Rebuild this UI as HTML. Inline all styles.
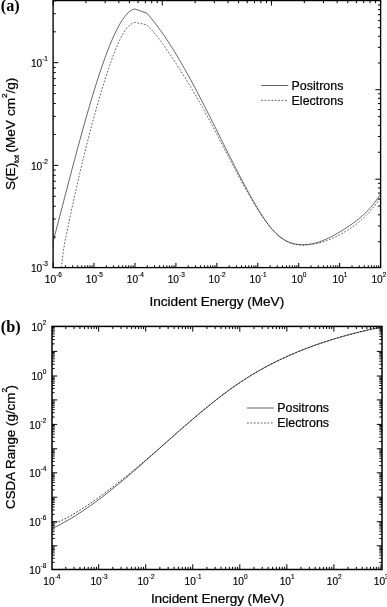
<!DOCTYPE html>
<html><head><meta charset="utf-8"><title>Figure</title>
<style>
html,body{margin:0;padding:0;background:#fff;}
svg{display:block;font-family:"Liberation Sans",sans-serif;fill:#000;}
text{stroke:#000;stroke-width:0.22px;}
</style></head><body>
<svg width="387" height="607" viewBox="0 0 387 607">
<rect x="0" y="0" width="387" height="607" fill="#fff"/>
<rect x="53.1" y="0.55" width="327.5" height="267.05" fill="none" stroke="#000" stroke-width="1.35"/>
<line x1="53.10" y1="267.60" x2="53.10" y2="262.80" stroke="#000" stroke-width="1.0" />
<line x1="65.42" y1="267.60" x2="65.42" y2="265.30" stroke="#000" stroke-width="1.0" />
<line x1="72.63" y1="267.60" x2="72.63" y2="265.30" stroke="#000" stroke-width="1.0" />
<line x1="77.75" y1="267.60" x2="77.75" y2="265.30" stroke="#000" stroke-width="1.0" />
<line x1="81.71" y1="267.60" x2="81.71" y2="265.30" stroke="#000" stroke-width="1.0" />
<line x1="84.96" y1="267.60" x2="84.96" y2="265.30" stroke="#000" stroke-width="1.0" />
<line x1="87.70" y1="267.60" x2="87.70" y2="265.30" stroke="#000" stroke-width="1.0" />
<line x1="90.07" y1="267.60" x2="90.07" y2="265.30" stroke="#000" stroke-width="1.0" />
<line x1="92.16" y1="267.60" x2="92.16" y2="265.30" stroke="#000" stroke-width="1.0" />
<line x1="94.04" y1="267.60" x2="94.04" y2="262.80" stroke="#000" stroke-width="1.0" />
<line x1="106.36" y1="267.60" x2="106.36" y2="265.30" stroke="#000" stroke-width="1.0" />
<line x1="113.57" y1="267.60" x2="113.57" y2="265.30" stroke="#000" stroke-width="1.0" />
<line x1="118.68" y1="267.60" x2="118.68" y2="265.30" stroke="#000" stroke-width="1.0" />
<line x1="122.65" y1="267.60" x2="122.65" y2="265.30" stroke="#000" stroke-width="1.0" />
<line x1="125.89" y1="267.60" x2="125.89" y2="265.30" stroke="#000" stroke-width="1.0" />
<line x1="128.63" y1="267.60" x2="128.63" y2="265.30" stroke="#000" stroke-width="1.0" />
<line x1="131.01" y1="267.60" x2="131.01" y2="265.30" stroke="#000" stroke-width="1.0" />
<line x1="133.10" y1="267.60" x2="133.10" y2="265.30" stroke="#000" stroke-width="1.0" />
<line x1="134.97" y1="267.60" x2="134.97" y2="262.80" stroke="#000" stroke-width="1.0" />
<line x1="147.30" y1="267.60" x2="147.30" y2="265.30" stroke="#000" stroke-width="1.0" />
<line x1="154.51" y1="267.60" x2="154.51" y2="265.30" stroke="#000" stroke-width="1.0" />
<line x1="159.62" y1="267.60" x2="159.62" y2="265.30" stroke="#000" stroke-width="1.0" />
<line x1="163.59" y1="267.60" x2="163.59" y2="265.30" stroke="#000" stroke-width="1.0" />
<line x1="166.83" y1="267.60" x2="166.83" y2="265.30" stroke="#000" stroke-width="1.0" />
<line x1="169.57" y1="267.60" x2="169.57" y2="265.30" stroke="#000" stroke-width="1.0" />
<line x1="171.95" y1="267.60" x2="171.95" y2="265.30" stroke="#000" stroke-width="1.0" />
<line x1="174.04" y1="267.60" x2="174.04" y2="265.30" stroke="#000" stroke-width="1.0" />
<line x1="175.91" y1="267.60" x2="175.91" y2="262.80" stroke="#000" stroke-width="1.0" />
<line x1="188.24" y1="267.60" x2="188.24" y2="265.30" stroke="#000" stroke-width="1.0" />
<line x1="195.44" y1="267.60" x2="195.44" y2="265.30" stroke="#000" stroke-width="1.0" />
<line x1="200.56" y1="267.60" x2="200.56" y2="265.30" stroke="#000" stroke-width="1.0" />
<line x1="204.53" y1="267.60" x2="204.53" y2="265.30" stroke="#000" stroke-width="1.0" />
<line x1="207.77" y1="267.60" x2="207.77" y2="265.30" stroke="#000" stroke-width="1.0" />
<line x1="210.51" y1="267.60" x2="210.51" y2="265.30" stroke="#000" stroke-width="1.0" />
<line x1="212.88" y1="267.60" x2="212.88" y2="265.30" stroke="#000" stroke-width="1.0" />
<line x1="214.98" y1="267.60" x2="214.98" y2="265.30" stroke="#000" stroke-width="1.0" />
<line x1="216.85" y1="267.60" x2="216.85" y2="262.80" stroke="#000" stroke-width="1.0" />
<line x1="229.17" y1="267.60" x2="229.17" y2="265.30" stroke="#000" stroke-width="1.0" />
<line x1="236.38" y1="267.60" x2="236.38" y2="265.30" stroke="#000" stroke-width="1.0" />
<line x1="241.50" y1="267.60" x2="241.50" y2="265.30" stroke="#000" stroke-width="1.0" />
<line x1="245.46" y1="267.60" x2="245.46" y2="265.30" stroke="#000" stroke-width="1.0" />
<line x1="248.71" y1="267.60" x2="248.71" y2="265.30" stroke="#000" stroke-width="1.0" />
<line x1="251.45" y1="267.60" x2="251.45" y2="265.30" stroke="#000" stroke-width="1.0" />
<line x1="253.82" y1="267.60" x2="253.82" y2="265.30" stroke="#000" stroke-width="1.0" />
<line x1="255.91" y1="267.60" x2="255.91" y2="265.30" stroke="#000" stroke-width="1.0" />
<line x1="257.79" y1="267.60" x2="257.79" y2="262.80" stroke="#000" stroke-width="1.0" />
<line x1="270.11" y1="267.60" x2="270.11" y2="265.30" stroke="#000" stroke-width="1.0" />
<line x1="277.32" y1="267.60" x2="277.32" y2="265.30" stroke="#000" stroke-width="1.0" />
<line x1="282.43" y1="267.60" x2="282.43" y2="265.30" stroke="#000" stroke-width="1.0" />
<line x1="286.40" y1="267.60" x2="286.40" y2="265.30" stroke="#000" stroke-width="1.0" />
<line x1="289.64" y1="267.60" x2="289.64" y2="265.30" stroke="#000" stroke-width="1.0" />
<line x1="292.38" y1="267.60" x2="292.38" y2="265.30" stroke="#000" stroke-width="1.0" />
<line x1="294.76" y1="267.60" x2="294.76" y2="265.30" stroke="#000" stroke-width="1.0" />
<line x1="296.85" y1="267.60" x2="296.85" y2="265.30" stroke="#000" stroke-width="1.0" />
<line x1="298.73" y1="267.60" x2="298.73" y2="262.80" stroke="#000" stroke-width="1.0" />
<line x1="311.05" y1="267.60" x2="311.05" y2="265.30" stroke="#000" stroke-width="1.0" />
<line x1="318.26" y1="267.60" x2="318.26" y2="265.30" stroke="#000" stroke-width="1.0" />
<line x1="323.37" y1="267.60" x2="323.37" y2="265.30" stroke="#000" stroke-width="1.0" />
<line x1="327.34" y1="267.60" x2="327.34" y2="265.30" stroke="#000" stroke-width="1.0" />
<line x1="330.58" y1="267.60" x2="330.58" y2="265.30" stroke="#000" stroke-width="1.0" />
<line x1="333.32" y1="267.60" x2="333.32" y2="265.30" stroke="#000" stroke-width="1.0" />
<line x1="335.70" y1="267.60" x2="335.70" y2="265.30" stroke="#000" stroke-width="1.0" />
<line x1="337.79" y1="267.60" x2="337.79" y2="265.30" stroke="#000" stroke-width="1.0" />
<line x1="339.66" y1="267.60" x2="339.66" y2="262.80" stroke="#000" stroke-width="1.0" />
<line x1="351.99" y1="267.60" x2="351.99" y2="265.30" stroke="#000" stroke-width="1.0" />
<line x1="359.19" y1="267.60" x2="359.19" y2="265.30" stroke="#000" stroke-width="1.0" />
<line x1="364.31" y1="267.60" x2="364.31" y2="265.30" stroke="#000" stroke-width="1.0" />
<line x1="368.28" y1="267.60" x2="368.28" y2="265.30" stroke="#000" stroke-width="1.0" />
<line x1="371.52" y1="267.60" x2="371.52" y2="265.30" stroke="#000" stroke-width="1.0" />
<line x1="374.26" y1="267.60" x2="374.26" y2="265.30" stroke="#000" stroke-width="1.0" />
<line x1="376.63" y1="267.60" x2="376.63" y2="265.30" stroke="#000" stroke-width="1.0" />
<line x1="378.73" y1="267.60" x2="378.73" y2="265.30" stroke="#000" stroke-width="1.0" />
<line x1="380.60" y1="267.60" x2="380.60" y2="262.80" stroke="#000" stroke-width="1.0" />
<line x1="53.10" y1="237.10" x2="55.80" y2="237.10" stroke="#000" stroke-width="1.0" />
<line x1="53.10" y1="219.02" x2="55.80" y2="219.02" stroke="#000" stroke-width="1.0" />
<line x1="53.10" y1="206.20" x2="55.80" y2="206.20" stroke="#000" stroke-width="1.0" />
<line x1="53.10" y1="196.25" x2="55.80" y2="196.25" stroke="#000" stroke-width="1.0" />
<line x1="53.10" y1="188.12" x2="55.80" y2="188.12" stroke="#000" stroke-width="1.0" />
<line x1="53.10" y1="181.25" x2="55.80" y2="181.25" stroke="#000" stroke-width="1.0" />
<line x1="53.10" y1="175.30" x2="55.80" y2="175.30" stroke="#000" stroke-width="1.0" />
<line x1="53.10" y1="170.05" x2="55.80" y2="170.05" stroke="#000" stroke-width="1.0" />
<line x1="53.10" y1="165.35" x2="58.30" y2="165.35" stroke="#000" stroke-width="1.0" />
<line x1="53.10" y1="134.45" x2="55.80" y2="134.45" stroke="#000" stroke-width="1.0" />
<line x1="53.10" y1="116.37" x2="55.80" y2="116.37" stroke="#000" stroke-width="1.0" />
<line x1="53.10" y1="103.55" x2="55.80" y2="103.55" stroke="#000" stroke-width="1.0" />
<line x1="53.10" y1="93.60" x2="55.80" y2="93.60" stroke="#000" stroke-width="1.0" />
<line x1="53.10" y1="85.47" x2="55.80" y2="85.47" stroke="#000" stroke-width="1.0" />
<line x1="53.10" y1="78.60" x2="55.80" y2="78.60" stroke="#000" stroke-width="1.0" />
<line x1="53.10" y1="72.65" x2="55.80" y2="72.65" stroke="#000" stroke-width="1.0" />
<line x1="53.10" y1="67.40" x2="55.80" y2="67.40" stroke="#000" stroke-width="1.0" />
<line x1="53.10" y1="62.70" x2="58.30" y2="62.70" stroke="#000" stroke-width="1.0" />
<line x1="53.10" y1="31.80" x2="55.80" y2="31.80" stroke="#000" stroke-width="1.0" />
<line x1="53.10" y1="13.72" x2="55.80" y2="13.72" stroke="#000" stroke-width="1.0" />
<line x1="53.10" y1="0.90" x2="55.80" y2="0.90" stroke="#000" stroke-width="1.0" />
<line x1="53.10" y1="0.55" x2="53.10" y2="5.55" stroke="#000" stroke-width="1.0" />
<line x1="85.96" y1="0.55" x2="85.96" y2="3.25" stroke="#000" stroke-width="1.0" />
<line x1="105.19" y1="0.55" x2="105.19" y2="3.25" stroke="#000" stroke-width="1.0" />
<line x1="118.82" y1="0.55" x2="118.82" y2="3.25" stroke="#000" stroke-width="1.0" />
<line x1="129.40" y1="0.55" x2="129.40" y2="3.25" stroke="#000" stroke-width="1.0" />
<line x1="138.05" y1="0.55" x2="138.05" y2="3.25" stroke="#000" stroke-width="1.0" />
<line x1="145.36" y1="0.55" x2="145.36" y2="3.25" stroke="#000" stroke-width="1.0" />
<line x1="151.69" y1="0.55" x2="151.69" y2="3.25" stroke="#000" stroke-width="1.0" />
<line x1="157.27" y1="0.55" x2="157.27" y2="3.25" stroke="#000" stroke-width="1.0" />
<line x1="162.27" y1="0.55" x2="162.27" y2="5.55" stroke="#000" stroke-width="1.0" />
<line x1="195.13" y1="0.55" x2="195.13" y2="3.25" stroke="#000" stroke-width="1.0" />
<line x1="214.35" y1="0.55" x2="214.35" y2="3.25" stroke="#000" stroke-width="1.0" />
<line x1="227.99" y1="0.55" x2="227.99" y2="3.25" stroke="#000" stroke-width="1.0" />
<line x1="238.57" y1="0.55" x2="238.57" y2="3.25" stroke="#000" stroke-width="1.0" />
<line x1="247.21" y1="0.55" x2="247.21" y2="3.25" stroke="#000" stroke-width="1.0" />
<line x1="254.52" y1="0.55" x2="254.52" y2="3.25" stroke="#000" stroke-width="1.0" />
<line x1="260.85" y1="0.55" x2="260.85" y2="3.25" stroke="#000" stroke-width="1.0" />
<line x1="266.44" y1="0.55" x2="266.44" y2="3.25" stroke="#000" stroke-width="1.0" />
<line x1="271.43" y1="0.55" x2="271.43" y2="5.55" stroke="#000" stroke-width="1.0" />
<line x1="304.30" y1="0.55" x2="304.30" y2="3.25" stroke="#000" stroke-width="1.0" />
<line x1="323.52" y1="0.55" x2="323.52" y2="3.25" stroke="#000" stroke-width="1.0" />
<line x1="337.16" y1="0.55" x2="337.16" y2="3.25" stroke="#000" stroke-width="1.0" />
<line x1="347.74" y1="0.55" x2="347.74" y2="3.25" stroke="#000" stroke-width="1.0" />
<line x1="356.38" y1="0.55" x2="356.38" y2="3.25" stroke="#000" stroke-width="1.0" />
<line x1="363.69" y1="0.55" x2="363.69" y2="3.25" stroke="#000" stroke-width="1.0" />
<line x1="370.02" y1="0.55" x2="370.02" y2="3.25" stroke="#000" stroke-width="1.0" />
<line x1="375.60" y1="0.55" x2="375.60" y2="3.25" stroke="#000" stroke-width="1.0" />
<line x1="380.60" y1="0.55" x2="380.60" y2="5.55" stroke="#000" stroke-width="1.0" />
<line x1="380.60" y1="89.70" x2="375.40" y2="89.70" stroke="#000" stroke-width="1.0" />
<line x1="380.60" y1="62.98" x2="377.90" y2="62.98" stroke="#000" stroke-width="1.0" />
<line x1="380.60" y1="47.36" x2="377.90" y2="47.36" stroke="#000" stroke-width="1.0" />
<line x1="380.60" y1="36.27" x2="377.90" y2="36.27" stroke="#000" stroke-width="1.0" />
<line x1="380.60" y1="27.67" x2="377.90" y2="27.67" stroke="#000" stroke-width="1.0" />
<line x1="380.60" y1="20.64" x2="377.90" y2="20.64" stroke="#000" stroke-width="1.0" />
<line x1="380.60" y1="14.70" x2="377.90" y2="14.70" stroke="#000" stroke-width="1.0" />
<line x1="380.60" y1="9.55" x2="377.90" y2="9.55" stroke="#000" stroke-width="1.0" />
<line x1="380.60" y1="5.01" x2="377.90" y2="5.01" stroke="#000" stroke-width="1.0" />
<line x1="380.60" y1="179.20" x2="375.40" y2="179.20" stroke="#000" stroke-width="1.0" />
<line x1="380.60" y1="152.26" x2="377.90" y2="152.26" stroke="#000" stroke-width="1.0" />
<line x1="380.60" y1="136.50" x2="377.90" y2="136.50" stroke="#000" stroke-width="1.0" />
<line x1="380.60" y1="125.32" x2="377.90" y2="125.32" stroke="#000" stroke-width="1.0" />
<line x1="380.60" y1="116.64" x2="377.90" y2="116.64" stroke="#000" stroke-width="1.0" />
<line x1="380.60" y1="109.56" x2="377.90" y2="109.56" stroke="#000" stroke-width="1.0" />
<line x1="380.60" y1="103.56" x2="377.90" y2="103.56" stroke="#000" stroke-width="1.0" />
<line x1="380.60" y1="98.37" x2="377.90" y2="98.37" stroke="#000" stroke-width="1.0" />
<line x1="380.60" y1="93.80" x2="377.90" y2="93.80" stroke="#000" stroke-width="1.0" />
<line x1="380.60" y1="241.76" x2="377.90" y2="241.76" stroke="#000" stroke-width="1.0" />
<line x1="380.60" y1="226.00" x2="377.90" y2="226.00" stroke="#000" stroke-width="1.0" />
<line x1="380.60" y1="214.82" x2="377.90" y2="214.82" stroke="#000" stroke-width="1.0" />
<line x1="380.60" y1="206.14" x2="377.90" y2="206.14" stroke="#000" stroke-width="1.0" />
<line x1="380.60" y1="199.06" x2="377.90" y2="199.06" stroke="#000" stroke-width="1.0" />
<line x1="380.60" y1="193.06" x2="377.90" y2="193.06" stroke="#000" stroke-width="1.0" />
<line x1="380.60" y1="187.87" x2="377.90" y2="187.87" stroke="#000" stroke-width="1.0" />
<line x1="380.60" y1="183.30" x2="377.90" y2="183.30" stroke="#000" stroke-width="1.0" />
<text transform="translate(53.40,283.40) scale(0.96,1)" font-size="10.6" text-anchor="middle" style="stroke-width:0.15px">10<tspan font-size="6.8" dy="-6.2">-6</tspan></text>
<text transform="translate(94.34,283.40) scale(0.96,1)" font-size="10.6" text-anchor="middle" style="stroke-width:0.15px">10<tspan font-size="6.8" dy="-6.2">-5</tspan></text>
<text transform="translate(135.28,283.40) scale(0.96,1)" font-size="10.6" text-anchor="middle" style="stroke-width:0.15px">10<tspan font-size="6.8" dy="-6.2">-4</tspan></text>
<text transform="translate(176.21,283.40) scale(0.96,1)" font-size="10.6" text-anchor="middle" style="stroke-width:0.15px">10<tspan font-size="6.8" dy="-6.2">-3</tspan></text>
<text transform="translate(217.15,283.40) scale(0.96,1)" font-size="10.6" text-anchor="middle" style="stroke-width:0.15px">10<tspan font-size="6.8" dy="-6.2">-2</tspan></text>
<text transform="translate(258.09,283.40) scale(0.96,1)" font-size="10.6" text-anchor="middle" style="stroke-width:0.15px">10<tspan font-size="6.8" dy="-6.2">-1</tspan></text>
<text transform="translate(299.03,283.40) scale(0.96,1)" font-size="10.6" text-anchor="middle" style="stroke-width:0.15px">10<tspan font-size="6.8" dy="-6.2">0</tspan></text>
<text transform="translate(339.96,283.40) scale(0.96,1)" font-size="10.6" text-anchor="middle" style="stroke-width:0.15px">10<tspan font-size="6.8" dy="-6.2">1</tspan></text>
<text transform="translate(378.90,283.40) scale(0.96,1)" font-size="10.6" text-anchor="middle" style="stroke-width:0.15px">10<tspan font-size="6.8" dy="-6.2">2</tspan></text>
<text transform="translate(48.00,272.40) scale(0.96,1)" font-size="10.6" text-anchor="end" style="stroke-width:0.15px">10<tspan font-size="6.8" dy="-6.2">-3</tspan></text>
<text transform="translate(48.00,169.75) scale(0.96,1)" font-size="10.6" text-anchor="end" style="stroke-width:0.15px">10<tspan font-size="6.8" dy="-6.2">-2</tspan></text>
<text transform="translate(48.00,67.10) scale(0.96,1)" font-size="10.6" text-anchor="end" style="stroke-width:0.15px">10<tspan font-size="6.8" dy="-6.2">-1</tspan></text>
<text transform="translate(149.6,306.2) scale(1.1,1)" font-size="12.4" textLength="122.36" lengthAdjust="spacing">Incident Energy (MeV)</text>
<g transform="translate(14.5,189.9) rotate(-90)">
<text transform="translate(-0.1,0) scale(1.1,1)" font-size="12.4">S(E)</text>
<text transform="translate(26.9,4.8) scale(1.1,1)" font-size="6.6">tot</text>
<text transform="translate(37.3,0) scale(1.1,1)" font-size="12.4">(MeV</text>
<text transform="translate(73.8,0) scale(1.1,1)" font-size="12.4">cm</text>
<text transform="translate(92.0,-7.7) scale(1.1,1)" font-size="7.8">2</text>
<text transform="translate(96.3,0) scale(1.1,1)" font-size="12.4">/g)</text>
</g>
<text x="0.8" y="11.1" font-family="'Liberation Serif',serif" font-weight="bold" font-size="16.3" style="stroke:none">(a)</text>
<line x1="261.2" y1="85.5" x2="288.3" y2="85.5" stroke="#222" stroke-width="0.7"/>
<line x1="261.2" y1="100.4" x2="288.3" y2="100.4" stroke="#222" stroke-width="0.7" stroke-dasharray="1.8 1.6"/>
<text x="291.6" y="89.8" font-size="12.4" textLength="51.8" lengthAdjust="spacing">Positrons</text>
<text x="291.6" y="104.7" font-size="12.4" textLength="51.8" lengthAdjust="spacing">Electrons</text>
<path d="M53.10,247.00 L53.50,240.60 L54.60,235.90 L55.60,232.08 L56.61,228.25 L57.61,224.42 L58.62,220.58 L59.62,216.74 L60.62,212.89 L61.63,209.04 L62.63,205.19 L63.63,201.34 L64.64,197.49 L65.64,193.64 L66.65,189.80 L67.65,185.96 L68.65,182.13 L69.66,178.30 L70.66,174.48 L71.66,170.68 L72.67,166.88 L73.67,163.10 L74.68,159.33 L75.68,155.57 L76.68,151.83 L77.69,148.11 L78.69,144.40 L79.69,140.72 L80.70,137.05 L81.70,133.41 L82.71,129.79 L83.71,126.19 L84.71,122.62 L85.72,119.08 L86.72,115.56 L87.72,112.07 L88.73,108.61 L89.73,105.19 L90.74,101.79 L91.74,98.43 L92.74,95.11 L93.75,91.82 L94.75,88.57 L95.75,85.36 L96.76,82.18 L97.76,79.05 L98.77,75.97 L99.77,72.92 L100.77,69.93 L101.78,66.98 L102.78,64.07 L103.78,61.22 L104.79,58.42 L105.79,55.68 L106.80,52.98 L107.80,50.35 L108.80,47.77 L109.81,45.25 L110.81,42.81 L111.81,40.43 L112.82,38.12 L113.82,35.88 L114.83,33.71 L115.83,31.62 L116.83,29.61 L117.84,27.67 L118.84,25.82 L119.84,24.05 L120.85,22.36 L121.85,20.76 L122.86,19.24 L123.86,17.82 L124.86,16.48 L125.87,15.25 L126.87,14.11 L127.87,13.07 L128.88,12.14 L129.88,11.32 L130.89,10.61 L131.89,10.02 L132.89,9.55 L133.90,9.21 L134.90,9.00 L146.90,13.20 L148.40,14.91 L149.90,16.68 L151.40,18.49 L152.90,20.35 L154.40,22.25 L155.90,24.20 L157.40,26.19 L158.91,28.23 L160.41,30.30 L161.91,32.42 L163.41,34.58 L164.91,36.77 L166.41,39.01 L167.91,41.28 L169.41,43.59 L170.91,45.93 L172.41,48.31 L173.91,50.73 L175.41,53.17 L176.91,55.65 L178.41,58.17 L179.91,60.71 L181.41,63.28 L182.92,65.89 L184.42,68.52 L185.92,71.18 L187.42,73.86 L188.92,76.57 L190.42,79.31 L191.92,82.07 L193.42,84.86 L194.92,87.66 L196.42,90.49 L197.92,93.34 L199.42,96.21 L200.92,99.10 L202.42,102.01 L203.92,104.94 L205.43,107.88 L206.93,110.83 L208.43,113.80 L209.93,116.78 L211.43,119.77 L212.93,122.76 L214.43,125.77 L215.93,128.77 L217.43,131.78 L218.93,134.80 L220.43,137.81 L221.93,140.82 L223.43,143.83 L224.93,146.84 L226.43,149.84 L227.93,152.84 L229.44,155.82 L230.94,158.80 L232.44,161.76 L233.94,164.72 L235.44,167.65 L236.94,170.58 L238.44,173.48 L239.94,176.37 L241.44,179.24 L242.94,182.08 L244.44,184.90 L245.94,187.70 L247.44,190.47 L248.94,193.21 L250.44,195.93 L251.94,198.61 L253.45,201.26 L254.95,203.87 L256.45,206.43 L257.95,208.95 L259.45,211.41 L260.95,213.80 L262.45,216.14 L263.95,218.40 L265.45,220.59 L266.95,222.70 L268.45,224.72 L269.95,226.65 L271.45,228.49 L272.95,230.22 L274.45,231.85 L275.96,233.37 L277.46,234.77 L278.96,236.07 L280.46,237.25 L281.96,238.33 L283.46,239.32 L284.96,240.20 L286.46,241.00 L287.96,241.70 L289.46,242.32 L290.96,242.86 L292.46,243.32 L293.96,243.71 L295.46,244.03 L296.96,244.28 L298.46,244.47 L299.97,244.60 L301.47,244.67 L302.97,244.70 L304.47,244.67 L305.97,244.58 L307.47,244.45 L308.97,244.27 L310.47,244.05 L311.97,243.78 L313.47,243.46 L314.97,243.10 L316.47,242.69 L317.97,242.25 L319.47,241.77 L320.97,241.24 L322.48,240.69 L323.98,240.09 L325.48,239.46 L326.98,238.80 L328.48,238.10 L329.98,237.37 L331.48,236.62 L332.98,235.83 L334.48,235.02 L335.98,234.18 L337.48,233.32 L338.98,232.44 L340.48,231.53 L341.98,230.60 L343.48,229.65 L344.98,228.69 L346.49,227.70 L347.99,226.70 L349.49,225.69 L350.99,224.66 L352.49,223.60 L353.99,222.52 L355.49,221.41 L356.99,220.26 L358.49,219.07 L359.99,217.83 L361.49,216.55 L362.99,215.21 L364.49,213.81 L365.99,212.35 L367.49,210.83 L368.99,209.23 L370.50,207.55 L372.00,205.79 L373.50,203.95 L375.00,202.02 L376.50,199.99 L378.00,197.87 L379.50,195.64 L381.00,193.30" fill="none" stroke="#222" stroke-width="0.7" stroke-linejoin="round"/>
<path d="M61.20,267.60 L61.60,265.40 L62.80,255.10 L64.70,242.90 L65.71,237.95 L66.71,233.04 L67.72,228.17 L68.72,223.35 L69.73,218.58 L70.73,213.85 L71.74,209.16 L72.75,204.52 L73.75,199.92 L74.76,195.37 L75.76,190.86 L76.77,186.40 L77.77,181.98 L78.78,177.61 L79.79,173.28 L80.79,169.00 L81.80,164.76 L82.80,160.57 L83.81,156.42 L84.81,152.31 L85.82,148.26 L86.83,144.24 L87.83,140.28 L88.84,136.35 L89.84,132.47 L90.85,128.64 L91.85,124.86 L92.86,121.11 L93.87,117.42 L94.87,113.77 L95.88,110.17 L96.88,106.61 L97.89,103.10 L98.89,99.63 L99.90,96.22 L100.91,92.85 L101.91,89.52 L102.92,86.25 L103.92,83.02 L104.93,79.84 L105.93,76.71 L106.94,73.63 L107.95,70.59 L108.95,67.61 L109.96,64.68 L110.96,61.81 L111.97,59.01 L112.97,56.28 L113.98,53.63 L114.99,51.05 L115.99,48.56 L117.00,46.16 L118.00,43.85 L119.01,41.63 L120.01,39.52 L121.02,37.51 L122.03,35.62 L123.03,33.83 L124.04,32.17 L125.04,30.63 L126.05,29.21 L127.05,27.92 L128.06,26.76 L129.07,25.74 L130.07,24.85 L131.08,24.09 L132.08,23.48 L133.09,23.01 L134.09,22.68 L135.10,22.50 L146.90,24.80 L148.40,26.33 L149.90,27.94 L151.40,29.60 L152.90,31.32 L154.40,33.10 L155.90,34.93 L157.40,36.81 L158.91,38.75 L160.41,40.72 L161.91,42.75 L163.41,44.81 L164.91,46.91 L166.41,49.05 L167.91,51.23 L169.41,53.43 L170.91,55.67 L172.41,57.93 L173.91,60.21 L175.41,62.52 L176.91,64.84 L178.41,67.18 L179.91,69.54 L181.41,71.92 L182.92,74.32 L184.42,76.73 L185.92,79.16 L187.42,81.62 L188.92,84.09 L190.42,86.59 L191.92,89.10 L193.42,91.64 L194.92,94.21 L196.42,96.79 L197.92,99.40 L199.42,102.04 L200.92,104.70 L202.42,107.38 L203.92,110.09 L205.43,112.83 L206.93,115.59 L208.43,118.38 L209.93,121.19 L211.43,124.02 L212.93,126.86 L214.43,129.72 L215.93,132.59 L217.43,135.47 L218.93,138.36 L220.43,141.26 L221.93,144.16 L223.43,147.07 L224.93,149.97 L226.43,152.88 L227.93,155.78 L229.44,158.67 L230.94,161.56 L232.44,164.43 L233.94,167.30 L235.44,170.15 L236.94,172.98 L238.44,175.79 L239.94,178.59 L241.44,181.36 L242.94,184.11 L244.44,186.83 L245.94,189.52 L247.44,192.18 L248.94,194.81 L250.44,197.40 L251.94,199.96 L253.45,202.48 L254.95,204.95 L256.45,207.38 L257.95,209.76 L259.45,212.09 L260.95,214.36 L262.45,216.57 L263.95,218.72 L265.45,220.80 L266.95,222.82 L268.45,224.76 L269.95,226.63 L271.45,228.41 L272.95,230.12 L274.45,231.73 L275.96,233.26 L277.46,234.70 L278.96,236.04 L280.46,237.28 L281.96,238.42 L283.46,239.45 L284.96,240.38 L286.46,241.21 L287.96,241.95 L289.46,242.60 L290.96,243.16 L292.46,243.65 L293.96,244.05 L295.46,244.38 L296.96,244.65 L298.46,244.85 L299.97,244.99 L301.47,245.07 L302.97,245.10 L304.47,245.09 L305.97,245.03 L307.47,244.93 L308.97,244.80 L310.47,244.63 L311.97,244.43 L313.47,244.19 L314.97,243.92 L316.47,243.62 L317.97,243.28 L319.47,242.90 L320.97,242.50 L322.48,242.06 L323.98,241.59 L325.48,241.08 L326.98,240.55 L328.48,239.98 L329.98,239.38 L331.48,238.76 L332.98,238.10 L334.48,237.41 L335.98,236.69 L337.48,235.94 L338.98,235.16 L340.48,234.36 L341.98,233.52 L343.48,232.66 L344.98,231.77 L346.49,230.85 L347.99,229.91 L349.49,228.94 L350.99,227.93 L352.49,226.90 L353.99,225.83 L355.49,224.72 L356.99,223.57 L358.49,222.38 L359.99,221.13 L361.49,219.84 L362.99,218.49 L364.49,217.08 L365.99,215.61 L367.49,214.07 L368.99,212.47 L370.50,210.79 L372.00,209.04 L373.50,207.21 L375.00,205.31 L376.50,203.31 L378.00,201.23 L379.50,199.06 L381.00,196.80" fill="none" stroke="#222" stroke-width="0.7" stroke-linejoin="round" stroke-dasharray="1.8 1.6"/>
<rect x="52.0" y="326.4" width="330.0" height="243.10000000000002" fill="none" stroke="#000" stroke-width="1.5"/>
<line x1="65.76" y1="569.50" x2="65.76" y2="566.80" stroke="#000" stroke-width="1.0" />
<line x1="65.76" y1="326.40" x2="65.76" y2="329.10" stroke="#000" stroke-width="1.0" />
<line x1="74.05" y1="569.50" x2="74.05" y2="566.80" stroke="#000" stroke-width="1.0" />
<line x1="74.05" y1="326.40" x2="74.05" y2="329.10" stroke="#000" stroke-width="1.0" />
<line x1="79.93" y1="569.50" x2="79.93" y2="566.80" stroke="#000" stroke-width="1.0" />
<line x1="79.93" y1="326.40" x2="79.93" y2="329.10" stroke="#000" stroke-width="1.0" />
<line x1="84.49" y1="569.50" x2="84.49" y2="566.80" stroke="#000" stroke-width="1.0" />
<line x1="84.49" y1="326.40" x2="84.49" y2="329.10" stroke="#000" stroke-width="1.0" />
<line x1="88.21" y1="569.50" x2="88.21" y2="566.80" stroke="#000" stroke-width="1.0" />
<line x1="88.21" y1="326.40" x2="88.21" y2="329.10" stroke="#000" stroke-width="1.0" />
<line x1="91.36" y1="569.50" x2="91.36" y2="566.80" stroke="#000" stroke-width="1.0" />
<line x1="91.36" y1="326.40" x2="91.36" y2="329.10" stroke="#000" stroke-width="1.0" />
<line x1="94.09" y1="569.50" x2="94.09" y2="566.80" stroke="#000" stroke-width="1.0" />
<line x1="94.09" y1="326.40" x2="94.09" y2="329.10" stroke="#000" stroke-width="1.0" />
<line x1="96.50" y1="569.50" x2="96.50" y2="566.80" stroke="#000" stroke-width="1.0" />
<line x1="96.50" y1="326.40" x2="96.50" y2="329.10" stroke="#000" stroke-width="1.0" />
<line x1="98.65" y1="569.50" x2="98.65" y2="564.30" stroke="#000" stroke-width="1.0" />
<line x1="98.65" y1="326.40" x2="98.65" y2="331.60" stroke="#000" stroke-width="1.0" />
<line x1="112.81" y1="569.50" x2="112.81" y2="566.80" stroke="#000" stroke-width="1.0" />
<line x1="112.81" y1="326.40" x2="112.81" y2="329.10" stroke="#000" stroke-width="1.0" />
<line x1="121.10" y1="569.50" x2="121.10" y2="566.80" stroke="#000" stroke-width="1.0" />
<line x1="121.10" y1="326.40" x2="121.10" y2="329.10" stroke="#000" stroke-width="1.0" />
<line x1="126.98" y1="569.50" x2="126.98" y2="566.80" stroke="#000" stroke-width="1.0" />
<line x1="126.98" y1="326.40" x2="126.98" y2="329.10" stroke="#000" stroke-width="1.0" />
<line x1="131.54" y1="569.50" x2="131.54" y2="566.80" stroke="#000" stroke-width="1.0" />
<line x1="131.54" y1="326.40" x2="131.54" y2="329.10" stroke="#000" stroke-width="1.0" />
<line x1="135.26" y1="569.50" x2="135.26" y2="566.80" stroke="#000" stroke-width="1.0" />
<line x1="135.26" y1="326.40" x2="135.26" y2="329.10" stroke="#000" stroke-width="1.0" />
<line x1="138.41" y1="569.50" x2="138.41" y2="566.80" stroke="#000" stroke-width="1.0" />
<line x1="138.41" y1="326.40" x2="138.41" y2="329.10" stroke="#000" stroke-width="1.0" />
<line x1="141.14" y1="569.50" x2="141.14" y2="566.80" stroke="#000" stroke-width="1.0" />
<line x1="141.14" y1="326.40" x2="141.14" y2="329.10" stroke="#000" stroke-width="1.0" />
<line x1="143.55" y1="569.50" x2="143.55" y2="566.80" stroke="#000" stroke-width="1.0" />
<line x1="143.55" y1="326.40" x2="143.55" y2="329.10" stroke="#000" stroke-width="1.0" />
<line x1="145.70" y1="569.50" x2="145.70" y2="564.30" stroke="#000" stroke-width="1.0" />
<line x1="145.70" y1="326.40" x2="145.70" y2="331.60" stroke="#000" stroke-width="1.0" />
<line x1="159.86" y1="569.50" x2="159.86" y2="566.80" stroke="#000" stroke-width="1.0" />
<line x1="159.86" y1="326.40" x2="159.86" y2="329.10" stroke="#000" stroke-width="1.0" />
<line x1="168.15" y1="569.50" x2="168.15" y2="566.80" stroke="#000" stroke-width="1.0" />
<line x1="168.15" y1="326.40" x2="168.15" y2="329.10" stroke="#000" stroke-width="1.0" />
<line x1="174.03" y1="569.50" x2="174.03" y2="566.80" stroke="#000" stroke-width="1.0" />
<line x1="174.03" y1="326.40" x2="174.03" y2="329.10" stroke="#000" stroke-width="1.0" />
<line x1="178.59" y1="569.50" x2="178.59" y2="566.80" stroke="#000" stroke-width="1.0" />
<line x1="178.59" y1="326.40" x2="178.59" y2="329.10" stroke="#000" stroke-width="1.0" />
<line x1="182.31" y1="569.50" x2="182.31" y2="566.80" stroke="#000" stroke-width="1.0" />
<line x1="182.31" y1="326.40" x2="182.31" y2="329.10" stroke="#000" stroke-width="1.0" />
<line x1="185.46" y1="569.50" x2="185.46" y2="566.80" stroke="#000" stroke-width="1.0" />
<line x1="185.46" y1="326.40" x2="185.46" y2="329.10" stroke="#000" stroke-width="1.0" />
<line x1="188.19" y1="569.50" x2="188.19" y2="566.80" stroke="#000" stroke-width="1.0" />
<line x1="188.19" y1="326.40" x2="188.19" y2="329.10" stroke="#000" stroke-width="1.0" />
<line x1="190.60" y1="569.50" x2="190.60" y2="566.80" stroke="#000" stroke-width="1.0" />
<line x1="190.60" y1="326.40" x2="190.60" y2="329.10" stroke="#000" stroke-width="1.0" />
<line x1="192.75" y1="569.50" x2="192.75" y2="564.30" stroke="#000" stroke-width="1.0" />
<line x1="192.75" y1="326.40" x2="192.75" y2="331.60" stroke="#000" stroke-width="1.0" />
<line x1="206.91" y1="569.50" x2="206.91" y2="566.80" stroke="#000" stroke-width="1.0" />
<line x1="206.91" y1="326.40" x2="206.91" y2="329.10" stroke="#000" stroke-width="1.0" />
<line x1="215.20" y1="569.50" x2="215.20" y2="566.80" stroke="#000" stroke-width="1.0" />
<line x1="215.20" y1="326.40" x2="215.20" y2="329.10" stroke="#000" stroke-width="1.0" />
<line x1="221.08" y1="569.50" x2="221.08" y2="566.80" stroke="#000" stroke-width="1.0" />
<line x1="221.08" y1="326.40" x2="221.08" y2="329.10" stroke="#000" stroke-width="1.0" />
<line x1="225.64" y1="569.50" x2="225.64" y2="566.80" stroke="#000" stroke-width="1.0" />
<line x1="225.64" y1="326.40" x2="225.64" y2="329.10" stroke="#000" stroke-width="1.0" />
<line x1="229.36" y1="569.50" x2="229.36" y2="566.80" stroke="#000" stroke-width="1.0" />
<line x1="229.36" y1="326.40" x2="229.36" y2="329.10" stroke="#000" stroke-width="1.0" />
<line x1="232.51" y1="569.50" x2="232.51" y2="566.80" stroke="#000" stroke-width="1.0" />
<line x1="232.51" y1="326.40" x2="232.51" y2="329.10" stroke="#000" stroke-width="1.0" />
<line x1="235.24" y1="569.50" x2="235.24" y2="566.80" stroke="#000" stroke-width="1.0" />
<line x1="235.24" y1="326.40" x2="235.24" y2="329.10" stroke="#000" stroke-width="1.0" />
<line x1="237.65" y1="569.50" x2="237.65" y2="566.80" stroke="#000" stroke-width="1.0" />
<line x1="237.65" y1="326.40" x2="237.65" y2="329.10" stroke="#000" stroke-width="1.0" />
<line x1="239.80" y1="569.50" x2="239.80" y2="564.30" stroke="#000" stroke-width="1.0" />
<line x1="239.80" y1="326.40" x2="239.80" y2="331.60" stroke="#000" stroke-width="1.0" />
<line x1="253.96" y1="569.50" x2="253.96" y2="566.80" stroke="#000" stroke-width="1.0" />
<line x1="253.96" y1="326.40" x2="253.96" y2="329.10" stroke="#000" stroke-width="1.0" />
<line x1="262.25" y1="569.50" x2="262.25" y2="566.80" stroke="#000" stroke-width="1.0" />
<line x1="262.25" y1="326.40" x2="262.25" y2="329.10" stroke="#000" stroke-width="1.0" />
<line x1="268.13" y1="569.50" x2="268.13" y2="566.80" stroke="#000" stroke-width="1.0" />
<line x1="268.13" y1="326.40" x2="268.13" y2="329.10" stroke="#000" stroke-width="1.0" />
<line x1="272.69" y1="569.50" x2="272.69" y2="566.80" stroke="#000" stroke-width="1.0" />
<line x1="272.69" y1="326.40" x2="272.69" y2="329.10" stroke="#000" stroke-width="1.0" />
<line x1="276.41" y1="569.50" x2="276.41" y2="566.80" stroke="#000" stroke-width="1.0" />
<line x1="276.41" y1="326.40" x2="276.41" y2="329.10" stroke="#000" stroke-width="1.0" />
<line x1="279.56" y1="569.50" x2="279.56" y2="566.80" stroke="#000" stroke-width="1.0" />
<line x1="279.56" y1="326.40" x2="279.56" y2="329.10" stroke="#000" stroke-width="1.0" />
<line x1="282.29" y1="569.50" x2="282.29" y2="566.80" stroke="#000" stroke-width="1.0" />
<line x1="282.29" y1="326.40" x2="282.29" y2="329.10" stroke="#000" stroke-width="1.0" />
<line x1="284.70" y1="569.50" x2="284.70" y2="566.80" stroke="#000" stroke-width="1.0" />
<line x1="284.70" y1="326.40" x2="284.70" y2="329.10" stroke="#000" stroke-width="1.0" />
<line x1="286.85" y1="569.50" x2="286.85" y2="564.30" stroke="#000" stroke-width="1.0" />
<line x1="286.85" y1="326.40" x2="286.85" y2="331.60" stroke="#000" stroke-width="1.0" />
<line x1="301.01" y1="569.50" x2="301.01" y2="566.80" stroke="#000" stroke-width="1.0" />
<line x1="301.01" y1="326.40" x2="301.01" y2="329.10" stroke="#000" stroke-width="1.0" />
<line x1="309.30" y1="569.50" x2="309.30" y2="566.80" stroke="#000" stroke-width="1.0" />
<line x1="309.30" y1="326.40" x2="309.30" y2="329.10" stroke="#000" stroke-width="1.0" />
<line x1="315.18" y1="569.50" x2="315.18" y2="566.80" stroke="#000" stroke-width="1.0" />
<line x1="315.18" y1="326.40" x2="315.18" y2="329.10" stroke="#000" stroke-width="1.0" />
<line x1="319.74" y1="569.50" x2="319.74" y2="566.80" stroke="#000" stroke-width="1.0" />
<line x1="319.74" y1="326.40" x2="319.74" y2="329.10" stroke="#000" stroke-width="1.0" />
<line x1="323.46" y1="569.50" x2="323.46" y2="566.80" stroke="#000" stroke-width="1.0" />
<line x1="323.46" y1="326.40" x2="323.46" y2="329.10" stroke="#000" stroke-width="1.0" />
<line x1="326.61" y1="569.50" x2="326.61" y2="566.80" stroke="#000" stroke-width="1.0" />
<line x1="326.61" y1="326.40" x2="326.61" y2="329.10" stroke="#000" stroke-width="1.0" />
<line x1="329.34" y1="569.50" x2="329.34" y2="566.80" stroke="#000" stroke-width="1.0" />
<line x1="329.34" y1="326.40" x2="329.34" y2="329.10" stroke="#000" stroke-width="1.0" />
<line x1="331.75" y1="569.50" x2="331.75" y2="566.80" stroke="#000" stroke-width="1.0" />
<line x1="331.75" y1="326.40" x2="331.75" y2="329.10" stroke="#000" stroke-width="1.0" />
<line x1="333.90" y1="569.50" x2="333.90" y2="564.30" stroke="#000" stroke-width="1.0" />
<line x1="333.90" y1="326.40" x2="333.90" y2="331.60" stroke="#000" stroke-width="1.0" />
<line x1="348.06" y1="569.50" x2="348.06" y2="566.80" stroke="#000" stroke-width="1.0" />
<line x1="348.06" y1="326.40" x2="348.06" y2="329.10" stroke="#000" stroke-width="1.0" />
<line x1="356.35" y1="569.50" x2="356.35" y2="566.80" stroke="#000" stroke-width="1.0" />
<line x1="356.35" y1="326.40" x2="356.35" y2="329.10" stroke="#000" stroke-width="1.0" />
<line x1="362.23" y1="569.50" x2="362.23" y2="566.80" stroke="#000" stroke-width="1.0" />
<line x1="362.23" y1="326.40" x2="362.23" y2="329.10" stroke="#000" stroke-width="1.0" />
<line x1="366.79" y1="569.50" x2="366.79" y2="566.80" stroke="#000" stroke-width="1.0" />
<line x1="366.79" y1="326.40" x2="366.79" y2="329.10" stroke="#000" stroke-width="1.0" />
<line x1="370.51" y1="569.50" x2="370.51" y2="566.80" stroke="#000" stroke-width="1.0" />
<line x1="370.51" y1="326.40" x2="370.51" y2="329.10" stroke="#000" stroke-width="1.0" />
<line x1="373.66" y1="569.50" x2="373.66" y2="566.80" stroke="#000" stroke-width="1.0" />
<line x1="373.66" y1="326.40" x2="373.66" y2="329.10" stroke="#000" stroke-width="1.0" />
<line x1="376.39" y1="569.50" x2="376.39" y2="566.80" stroke="#000" stroke-width="1.0" />
<line x1="376.39" y1="326.40" x2="376.39" y2="329.10" stroke="#000" stroke-width="1.0" />
<line x1="378.80" y1="569.50" x2="378.80" y2="566.80" stroke="#000" stroke-width="1.0" />
<line x1="378.80" y1="326.40" x2="378.80" y2="329.10" stroke="#000" stroke-width="1.0" />
<line x1="380.95" y1="569.50" x2="380.95" y2="564.30" stroke="#000" stroke-width="1.0" />
<line x1="380.95" y1="326.40" x2="380.95" y2="331.60" stroke="#000" stroke-width="1.0" />
<line x1="52.00" y1="351.40" x2="57.20" y2="351.40" stroke="#000" stroke-width="1.0" />
<line x1="382.00" y1="351.40" x2="376.80" y2="351.40" stroke="#000" stroke-width="1.0" />
<line x1="52.00" y1="343.87" x2="54.70" y2="343.87" stroke="#000" stroke-width="1.0" />
<line x1="382.00" y1="343.87" x2="379.30" y2="343.87" stroke="#000" stroke-width="1.0" />
<line x1="52.00" y1="339.47" x2="54.70" y2="339.47" stroke="#000" stroke-width="1.0" />
<line x1="382.00" y1="339.47" x2="379.30" y2="339.47" stroke="#000" stroke-width="1.0" />
<line x1="52.00" y1="336.35" x2="54.70" y2="336.35" stroke="#000" stroke-width="1.0" />
<line x1="382.00" y1="336.35" x2="379.30" y2="336.35" stroke="#000" stroke-width="1.0" />
<line x1="52.00" y1="333.93" x2="54.70" y2="333.93" stroke="#000" stroke-width="1.0" />
<line x1="382.00" y1="333.93" x2="379.30" y2="333.93" stroke="#000" stroke-width="1.0" />
<line x1="52.00" y1="331.95" x2="54.70" y2="331.95" stroke="#000" stroke-width="1.0" />
<line x1="382.00" y1="331.95" x2="379.30" y2="331.95" stroke="#000" stroke-width="1.0" />
<line x1="52.00" y1="330.27" x2="54.70" y2="330.27" stroke="#000" stroke-width="1.0" />
<line x1="382.00" y1="330.27" x2="379.30" y2="330.27" stroke="#000" stroke-width="1.0" />
<line x1="52.00" y1="328.82" x2="54.70" y2="328.82" stroke="#000" stroke-width="1.0" />
<line x1="382.00" y1="328.82" x2="379.30" y2="328.82" stroke="#000" stroke-width="1.0" />
<line x1="52.00" y1="327.54" x2="54.70" y2="327.54" stroke="#000" stroke-width="1.0" />
<line x1="382.00" y1="327.54" x2="379.30" y2="327.54" stroke="#000" stroke-width="1.0" />
<line x1="52.00" y1="376.00" x2="57.20" y2="376.00" stroke="#000" stroke-width="1.0" />
<line x1="382.00" y1="376.00" x2="376.80" y2="376.00" stroke="#000" stroke-width="1.0" />
<line x1="52.00" y1="368.59" x2="54.70" y2="368.59" stroke="#000" stroke-width="1.0" />
<line x1="382.00" y1="368.59" x2="379.30" y2="368.59" stroke="#000" stroke-width="1.0" />
<line x1="52.00" y1="364.26" x2="54.70" y2="364.26" stroke="#000" stroke-width="1.0" />
<line x1="382.00" y1="364.26" x2="379.30" y2="364.26" stroke="#000" stroke-width="1.0" />
<line x1="52.00" y1="361.19" x2="54.70" y2="361.19" stroke="#000" stroke-width="1.0" />
<line x1="382.00" y1="361.19" x2="379.30" y2="361.19" stroke="#000" stroke-width="1.0" />
<line x1="52.00" y1="358.81" x2="54.70" y2="358.81" stroke="#000" stroke-width="1.0" />
<line x1="382.00" y1="358.81" x2="379.30" y2="358.81" stroke="#000" stroke-width="1.0" />
<line x1="52.00" y1="356.86" x2="54.70" y2="356.86" stroke="#000" stroke-width="1.0" />
<line x1="382.00" y1="356.86" x2="379.30" y2="356.86" stroke="#000" stroke-width="1.0" />
<line x1="52.00" y1="355.21" x2="54.70" y2="355.21" stroke="#000" stroke-width="1.0" />
<line x1="382.00" y1="355.21" x2="379.30" y2="355.21" stroke="#000" stroke-width="1.0" />
<line x1="52.00" y1="353.78" x2="54.70" y2="353.78" stroke="#000" stroke-width="1.0" />
<line x1="382.00" y1="353.78" x2="379.30" y2="353.78" stroke="#000" stroke-width="1.0" />
<line x1="52.00" y1="352.53" x2="54.70" y2="352.53" stroke="#000" stroke-width="1.0" />
<line x1="382.00" y1="352.53" x2="379.30" y2="352.53" stroke="#000" stroke-width="1.0" />
<line x1="52.00" y1="399.90" x2="57.20" y2="399.90" stroke="#000" stroke-width="1.0" />
<line x1="382.00" y1="399.90" x2="376.80" y2="399.90" stroke="#000" stroke-width="1.0" />
<line x1="52.00" y1="392.71" x2="54.70" y2="392.71" stroke="#000" stroke-width="1.0" />
<line x1="382.00" y1="392.71" x2="379.30" y2="392.71" stroke="#000" stroke-width="1.0" />
<line x1="52.00" y1="388.50" x2="54.70" y2="388.50" stroke="#000" stroke-width="1.0" />
<line x1="382.00" y1="388.50" x2="379.30" y2="388.50" stroke="#000" stroke-width="1.0" />
<line x1="52.00" y1="385.51" x2="54.70" y2="385.51" stroke="#000" stroke-width="1.0" />
<line x1="382.00" y1="385.51" x2="379.30" y2="385.51" stroke="#000" stroke-width="1.0" />
<line x1="52.00" y1="383.19" x2="54.70" y2="383.19" stroke="#000" stroke-width="1.0" />
<line x1="382.00" y1="383.19" x2="379.30" y2="383.19" stroke="#000" stroke-width="1.0" />
<line x1="52.00" y1="381.30" x2="54.70" y2="381.30" stroke="#000" stroke-width="1.0" />
<line x1="382.00" y1="381.30" x2="379.30" y2="381.30" stroke="#000" stroke-width="1.0" />
<line x1="52.00" y1="379.70" x2="54.70" y2="379.70" stroke="#000" stroke-width="1.0" />
<line x1="382.00" y1="379.70" x2="379.30" y2="379.70" stroke="#000" stroke-width="1.0" />
<line x1="52.00" y1="378.32" x2="54.70" y2="378.32" stroke="#000" stroke-width="1.0" />
<line x1="382.00" y1="378.32" x2="379.30" y2="378.32" stroke="#000" stroke-width="1.0" />
<line x1="52.00" y1="377.09" x2="54.70" y2="377.09" stroke="#000" stroke-width="1.0" />
<line x1="382.00" y1="377.09" x2="379.30" y2="377.09" stroke="#000" stroke-width="1.0" />
<line x1="52.00" y1="424.40" x2="57.20" y2="424.40" stroke="#000" stroke-width="1.0" />
<line x1="382.00" y1="424.40" x2="376.80" y2="424.40" stroke="#000" stroke-width="1.0" />
<line x1="52.00" y1="417.02" x2="54.70" y2="417.02" stroke="#000" stroke-width="1.0" />
<line x1="382.00" y1="417.02" x2="379.30" y2="417.02" stroke="#000" stroke-width="1.0" />
<line x1="52.00" y1="412.71" x2="54.70" y2="412.71" stroke="#000" stroke-width="1.0" />
<line x1="382.00" y1="412.71" x2="379.30" y2="412.71" stroke="#000" stroke-width="1.0" />
<line x1="52.00" y1="409.65" x2="54.70" y2="409.65" stroke="#000" stroke-width="1.0" />
<line x1="382.00" y1="409.65" x2="379.30" y2="409.65" stroke="#000" stroke-width="1.0" />
<line x1="52.00" y1="407.28" x2="54.70" y2="407.28" stroke="#000" stroke-width="1.0" />
<line x1="382.00" y1="407.28" x2="379.30" y2="407.28" stroke="#000" stroke-width="1.0" />
<line x1="52.00" y1="405.34" x2="54.70" y2="405.34" stroke="#000" stroke-width="1.0" />
<line x1="382.00" y1="405.34" x2="379.30" y2="405.34" stroke="#000" stroke-width="1.0" />
<line x1="52.00" y1="403.70" x2="54.70" y2="403.70" stroke="#000" stroke-width="1.0" />
<line x1="382.00" y1="403.70" x2="379.30" y2="403.70" stroke="#000" stroke-width="1.0" />
<line x1="52.00" y1="402.27" x2="54.70" y2="402.27" stroke="#000" stroke-width="1.0" />
<line x1="382.00" y1="402.27" x2="379.30" y2="402.27" stroke="#000" stroke-width="1.0" />
<line x1="52.00" y1="401.02" x2="54.70" y2="401.02" stroke="#000" stroke-width="1.0" />
<line x1="382.00" y1="401.02" x2="379.30" y2="401.02" stroke="#000" stroke-width="1.0" />
<line x1="52.00" y1="448.80" x2="57.20" y2="448.80" stroke="#000" stroke-width="1.0" />
<line x1="382.00" y1="448.80" x2="376.80" y2="448.80" stroke="#000" stroke-width="1.0" />
<line x1="52.00" y1="441.45" x2="54.70" y2="441.45" stroke="#000" stroke-width="1.0" />
<line x1="382.00" y1="441.45" x2="379.30" y2="441.45" stroke="#000" stroke-width="1.0" />
<line x1="52.00" y1="437.16" x2="54.70" y2="437.16" stroke="#000" stroke-width="1.0" />
<line x1="382.00" y1="437.16" x2="379.30" y2="437.16" stroke="#000" stroke-width="1.0" />
<line x1="52.00" y1="434.11" x2="54.70" y2="434.11" stroke="#000" stroke-width="1.0" />
<line x1="382.00" y1="434.11" x2="379.30" y2="434.11" stroke="#000" stroke-width="1.0" />
<line x1="52.00" y1="431.75" x2="54.70" y2="431.75" stroke="#000" stroke-width="1.0" />
<line x1="382.00" y1="431.75" x2="379.30" y2="431.75" stroke="#000" stroke-width="1.0" />
<line x1="52.00" y1="429.81" x2="54.70" y2="429.81" stroke="#000" stroke-width="1.0" />
<line x1="382.00" y1="429.81" x2="379.30" y2="429.81" stroke="#000" stroke-width="1.0" />
<line x1="52.00" y1="428.18" x2="54.70" y2="428.18" stroke="#000" stroke-width="1.0" />
<line x1="382.00" y1="428.18" x2="379.30" y2="428.18" stroke="#000" stroke-width="1.0" />
<line x1="52.00" y1="426.76" x2="54.70" y2="426.76" stroke="#000" stroke-width="1.0" />
<line x1="382.00" y1="426.76" x2="379.30" y2="426.76" stroke="#000" stroke-width="1.0" />
<line x1="52.00" y1="425.52" x2="54.70" y2="425.52" stroke="#000" stroke-width="1.0" />
<line x1="382.00" y1="425.52" x2="379.30" y2="425.52" stroke="#000" stroke-width="1.0" />
<line x1="52.00" y1="472.80" x2="57.20" y2="472.80" stroke="#000" stroke-width="1.0" />
<line x1="382.00" y1="472.80" x2="376.80" y2="472.80" stroke="#000" stroke-width="1.0" />
<line x1="52.00" y1="465.58" x2="54.70" y2="465.58" stroke="#000" stroke-width="1.0" />
<line x1="382.00" y1="465.58" x2="379.30" y2="465.58" stroke="#000" stroke-width="1.0" />
<line x1="52.00" y1="461.35" x2="54.70" y2="461.35" stroke="#000" stroke-width="1.0" />
<line x1="382.00" y1="461.35" x2="379.30" y2="461.35" stroke="#000" stroke-width="1.0" />
<line x1="52.00" y1="458.35" x2="54.70" y2="458.35" stroke="#000" stroke-width="1.0" />
<line x1="382.00" y1="458.35" x2="379.30" y2="458.35" stroke="#000" stroke-width="1.0" />
<line x1="52.00" y1="456.02" x2="54.70" y2="456.02" stroke="#000" stroke-width="1.0" />
<line x1="382.00" y1="456.02" x2="379.30" y2="456.02" stroke="#000" stroke-width="1.0" />
<line x1="52.00" y1="454.12" x2="54.70" y2="454.12" stroke="#000" stroke-width="1.0" />
<line x1="382.00" y1="454.12" x2="379.30" y2="454.12" stroke="#000" stroke-width="1.0" />
<line x1="52.00" y1="452.52" x2="54.70" y2="452.52" stroke="#000" stroke-width="1.0" />
<line x1="382.00" y1="452.52" x2="379.30" y2="452.52" stroke="#000" stroke-width="1.0" />
<line x1="52.00" y1="451.13" x2="54.70" y2="451.13" stroke="#000" stroke-width="1.0" />
<line x1="382.00" y1="451.13" x2="379.30" y2="451.13" stroke="#000" stroke-width="1.0" />
<line x1="52.00" y1="449.90" x2="54.70" y2="449.90" stroke="#000" stroke-width="1.0" />
<line x1="382.00" y1="449.90" x2="379.30" y2="449.90" stroke="#000" stroke-width="1.0" />
<line x1="52.00" y1="497.20" x2="57.20" y2="497.20" stroke="#000" stroke-width="1.0" />
<line x1="382.00" y1="497.20" x2="376.80" y2="497.20" stroke="#000" stroke-width="1.0" />
<line x1="52.00" y1="489.85" x2="54.70" y2="489.85" stroke="#000" stroke-width="1.0" />
<line x1="382.00" y1="489.85" x2="379.30" y2="489.85" stroke="#000" stroke-width="1.0" />
<line x1="52.00" y1="485.56" x2="54.70" y2="485.56" stroke="#000" stroke-width="1.0" />
<line x1="382.00" y1="485.56" x2="379.30" y2="485.56" stroke="#000" stroke-width="1.0" />
<line x1="52.00" y1="482.51" x2="54.70" y2="482.51" stroke="#000" stroke-width="1.0" />
<line x1="382.00" y1="482.51" x2="379.30" y2="482.51" stroke="#000" stroke-width="1.0" />
<line x1="52.00" y1="480.15" x2="54.70" y2="480.15" stroke="#000" stroke-width="1.0" />
<line x1="382.00" y1="480.15" x2="379.30" y2="480.15" stroke="#000" stroke-width="1.0" />
<line x1="52.00" y1="478.21" x2="54.70" y2="478.21" stroke="#000" stroke-width="1.0" />
<line x1="382.00" y1="478.21" x2="379.30" y2="478.21" stroke="#000" stroke-width="1.0" />
<line x1="52.00" y1="476.58" x2="54.70" y2="476.58" stroke="#000" stroke-width="1.0" />
<line x1="382.00" y1="476.58" x2="379.30" y2="476.58" stroke="#000" stroke-width="1.0" />
<line x1="52.00" y1="475.16" x2="54.70" y2="475.16" stroke="#000" stroke-width="1.0" />
<line x1="382.00" y1="475.16" x2="379.30" y2="475.16" stroke="#000" stroke-width="1.0" />
<line x1="52.00" y1="473.92" x2="54.70" y2="473.92" stroke="#000" stroke-width="1.0" />
<line x1="382.00" y1="473.92" x2="379.30" y2="473.92" stroke="#000" stroke-width="1.0" />
<line x1="52.00" y1="521.70" x2="57.20" y2="521.70" stroke="#000" stroke-width="1.0" />
<line x1="382.00" y1="521.70" x2="376.80" y2="521.70" stroke="#000" stroke-width="1.0" />
<line x1="52.00" y1="514.32" x2="54.70" y2="514.32" stroke="#000" stroke-width="1.0" />
<line x1="382.00" y1="514.32" x2="379.30" y2="514.32" stroke="#000" stroke-width="1.0" />
<line x1="52.00" y1="510.01" x2="54.70" y2="510.01" stroke="#000" stroke-width="1.0" />
<line x1="382.00" y1="510.01" x2="379.30" y2="510.01" stroke="#000" stroke-width="1.0" />
<line x1="52.00" y1="506.95" x2="54.70" y2="506.95" stroke="#000" stroke-width="1.0" />
<line x1="382.00" y1="506.95" x2="379.30" y2="506.95" stroke="#000" stroke-width="1.0" />
<line x1="52.00" y1="504.58" x2="54.70" y2="504.58" stroke="#000" stroke-width="1.0" />
<line x1="382.00" y1="504.58" x2="379.30" y2="504.58" stroke="#000" stroke-width="1.0" />
<line x1="52.00" y1="502.64" x2="54.70" y2="502.64" stroke="#000" stroke-width="1.0" />
<line x1="382.00" y1="502.64" x2="379.30" y2="502.64" stroke="#000" stroke-width="1.0" />
<line x1="52.00" y1="501.00" x2="54.70" y2="501.00" stroke="#000" stroke-width="1.0" />
<line x1="382.00" y1="501.00" x2="379.30" y2="501.00" stroke="#000" stroke-width="1.0" />
<line x1="52.00" y1="499.57" x2="54.70" y2="499.57" stroke="#000" stroke-width="1.0" />
<line x1="382.00" y1="499.57" x2="379.30" y2="499.57" stroke="#000" stroke-width="1.0" />
<line x1="52.00" y1="498.32" x2="54.70" y2="498.32" stroke="#000" stroke-width="1.0" />
<line x1="382.00" y1="498.32" x2="379.30" y2="498.32" stroke="#000" stroke-width="1.0" />
<line x1="52.00" y1="545.80" x2="57.20" y2="545.80" stroke="#000" stroke-width="1.0" />
<line x1="382.00" y1="545.80" x2="376.80" y2="545.80" stroke="#000" stroke-width="1.0" />
<line x1="52.00" y1="538.55" x2="54.70" y2="538.55" stroke="#000" stroke-width="1.0" />
<line x1="382.00" y1="538.55" x2="379.30" y2="538.55" stroke="#000" stroke-width="1.0" />
<line x1="52.00" y1="534.30" x2="54.70" y2="534.30" stroke="#000" stroke-width="1.0" />
<line x1="382.00" y1="534.30" x2="379.30" y2="534.30" stroke="#000" stroke-width="1.0" />
<line x1="52.00" y1="531.29" x2="54.70" y2="531.29" stroke="#000" stroke-width="1.0" />
<line x1="382.00" y1="531.29" x2="379.30" y2="531.29" stroke="#000" stroke-width="1.0" />
<line x1="52.00" y1="528.95" x2="54.70" y2="528.95" stroke="#000" stroke-width="1.0" />
<line x1="382.00" y1="528.95" x2="379.30" y2="528.95" stroke="#000" stroke-width="1.0" />
<line x1="52.00" y1="527.05" x2="54.70" y2="527.05" stroke="#000" stroke-width="1.0" />
<line x1="382.00" y1="527.05" x2="379.30" y2="527.05" stroke="#000" stroke-width="1.0" />
<line x1="52.00" y1="525.43" x2="54.70" y2="525.43" stroke="#000" stroke-width="1.0" />
<line x1="382.00" y1="525.43" x2="379.30" y2="525.43" stroke="#000" stroke-width="1.0" />
<line x1="52.00" y1="524.04" x2="54.70" y2="524.04" stroke="#000" stroke-width="1.0" />
<line x1="382.00" y1="524.04" x2="379.30" y2="524.04" stroke="#000" stroke-width="1.0" />
<line x1="52.00" y1="522.80" x2="54.70" y2="522.80" stroke="#000" stroke-width="1.0" />
<line x1="382.00" y1="522.80" x2="379.30" y2="522.80" stroke="#000" stroke-width="1.0" />
<line x1="52.00" y1="562.37" x2="54.70" y2="562.37" stroke="#000" stroke-width="1.0" />
<line x1="382.00" y1="562.37" x2="379.30" y2="562.37" stroke="#000" stroke-width="1.0" />
<line x1="52.00" y1="558.19" x2="54.70" y2="558.19" stroke="#000" stroke-width="1.0" />
<line x1="382.00" y1="558.19" x2="379.30" y2="558.19" stroke="#000" stroke-width="1.0" />
<line x1="52.00" y1="555.23" x2="54.70" y2="555.23" stroke="#000" stroke-width="1.0" />
<line x1="382.00" y1="555.23" x2="379.30" y2="555.23" stroke="#000" stroke-width="1.0" />
<line x1="52.00" y1="552.93" x2="54.70" y2="552.93" stroke="#000" stroke-width="1.0" />
<line x1="382.00" y1="552.93" x2="379.30" y2="552.93" stroke="#000" stroke-width="1.0" />
<line x1="52.00" y1="551.06" x2="54.70" y2="551.06" stroke="#000" stroke-width="1.0" />
<line x1="382.00" y1="551.06" x2="379.30" y2="551.06" stroke="#000" stroke-width="1.0" />
<line x1="52.00" y1="549.47" x2="54.70" y2="549.47" stroke="#000" stroke-width="1.0" />
<line x1="382.00" y1="549.47" x2="379.30" y2="549.47" stroke="#000" stroke-width="1.0" />
<line x1="52.00" y1="548.10" x2="54.70" y2="548.10" stroke="#000" stroke-width="1.0" />
<line x1="382.00" y1="548.10" x2="379.30" y2="548.10" stroke="#000" stroke-width="1.0" />
<line x1="52.00" y1="546.88" x2="54.70" y2="546.88" stroke="#000" stroke-width="1.0" />
<line x1="382.00" y1="546.88" x2="379.30" y2="546.88" stroke="#000" stroke-width="1.0" />
<text transform="translate(51.90,585.00) scale(0.96,1)" font-size="10.6" text-anchor="middle" style="stroke-width:0.15px">10<tspan font-size="6.8" dy="-6.2">-4</tspan></text>
<text transform="translate(98.95,585.00) scale(0.96,1)" font-size="10.6" text-anchor="middle" style="stroke-width:0.15px">10<tspan font-size="6.8" dy="-6.2">-3</tspan></text>
<text transform="translate(146.00,585.00) scale(0.96,1)" font-size="10.6" text-anchor="middle" style="stroke-width:0.15px">10<tspan font-size="6.8" dy="-6.2">-2</tspan></text>
<text transform="translate(193.05,585.00) scale(0.96,1)" font-size="10.6" text-anchor="middle" style="stroke-width:0.15px">10<tspan font-size="6.8" dy="-6.2">-1</tspan></text>
<text transform="translate(240.10,585.00) scale(0.96,1)" font-size="10.6" text-anchor="middle" style="stroke-width:0.15px">10<tspan font-size="6.8" dy="-6.2">0</tspan></text>
<text transform="translate(287.15,585.00) scale(0.96,1)" font-size="10.6" text-anchor="middle" style="stroke-width:0.15px">10<tspan font-size="6.8" dy="-6.2">1</tspan></text>
<text transform="translate(334.20,585.00) scale(0.96,1)" font-size="10.6" text-anchor="middle" style="stroke-width:0.15px">10<tspan font-size="6.8" dy="-6.2">2</tspan></text>
<text transform="translate(381.25,585.00) scale(0.96,1)" font-size="10.6" text-anchor="middle" style="stroke-width:0.15px">10<tspan font-size="6.8" dy="-6.2">3</tspan></text>
<text transform="translate(46.40,573.90) scale(0.96,1)" font-size="10.6" text-anchor="end" style="stroke-width:0.15px">10<tspan font-size="6.8" dy="-6.2">-8</tspan></text>
<text transform="translate(46.40,526.10) scale(0.96,1)" font-size="10.6" text-anchor="end" style="stroke-width:0.15px">10<tspan font-size="6.8" dy="-6.2">-6</tspan></text>
<text transform="translate(46.40,477.20) scale(0.96,1)" font-size="10.6" text-anchor="end" style="stroke-width:0.15px">10<tspan font-size="6.8" dy="-6.2">-4</tspan></text>
<text transform="translate(46.40,428.80) scale(0.96,1)" font-size="10.6" text-anchor="end" style="stroke-width:0.15px">10<tspan font-size="6.8" dy="-6.2">-2</tspan></text>
<text transform="translate(46.40,380.40) scale(0.96,1)" font-size="10.6" text-anchor="end" style="stroke-width:0.15px">10<tspan font-size="6.8" dy="-6.2">0</tspan></text>
<text transform="translate(46.40,330.80) scale(0.96,1)" font-size="10.6" text-anchor="end" style="stroke-width:0.15px">10<tspan font-size="6.8" dy="-6.2">2</tspan></text>
<text transform="translate(150.9,602.9) scale(1.1,1)" font-size="12.4" textLength="121.18" lengthAdjust="spacing">Incident Energy (MeV)</text>
<g transform="translate(14.5,508.9) rotate(-90)">
<text transform="translate(0.0,0) scale(1.074,1)" font-size="12.4">CSDA Range (g/cm</text>
<text transform="translate(116.5,-7.7) scale(1.074,1)" font-size="7.8">2</text>
<text transform="translate(119.3,0) scale(1.074,1)" font-size="12.4">)</text>
</g>
<text x="0.8" y="331.5" font-family="'Liberation Serif',serif" font-weight="bold" font-size="16.3" style="stroke:none">(b)</text>
<line x1="247" y1="408.0" x2="273.9" y2="408.0" stroke="#222" stroke-width="0.7"/>
<line x1="247" y1="423.0" x2="273.9" y2="423.0" stroke="#222" stroke-width="0.7" stroke-dasharray="1.8 1.6"/>
<text x="277.2" y="412.2" font-size="12.4" textLength="51.8" lengthAdjust="spacing">Positrons</text>
<text x="277.2" y="427.1" font-size="12.4" textLength="51.8" lengthAdjust="spacing">Electrons</text>
<path d="M52.00,528.50 C52.50,528.26 54.00,527.57 55.00,527.08 C56.00,526.60 57.00,526.10 58.00,525.60 C59.00,525.09 60.00,524.57 61.00,524.04 C62.00,523.51 63.00,522.97 64.00,522.42 C65.00,521.87 66.00,521.31 67.00,520.74 C68.00,520.17 69.00,519.59 70.00,519.00 C71.00,518.41 72.00,517.81 73.00,517.20 C74.00,516.59 75.00,515.97 76.00,515.34 C77.00,514.71 78.00,514.07 79.00,513.43 C80.00,512.78 81.00,512.12 82.00,511.46 C83.00,510.80 84.00,510.12 85.00,509.44 C86.00,508.76 87.00,508.07 88.00,507.37 C89.00,506.68 90.00,505.97 91.00,505.26 C92.00,504.55 93.00,503.82 94.00,503.10 C95.00,502.37 96.00,501.63 97.00,500.89 C98.00,500.15 99.00,499.40 100.00,498.65 C101.00,497.89 102.00,497.13 103.00,496.36 C104.00,495.59 105.00,494.82 106.00,494.04 C107.00,493.26 108.00,492.47 109.00,491.68 C110.00,490.88 111.00,490.09 112.00,489.28 C113.00,488.48 114.00,487.67 115.00,486.86 C116.00,486.04 117.00,485.23 118.00,484.40 C119.00,483.58 120.00,482.75 121.00,481.92 C122.00,481.09 123.00,480.25 124.00,479.41 C125.00,478.57 126.00,477.72 127.00,476.88 C128.00,476.03 129.00,475.17 130.00,474.32 C131.00,473.46 132.00,472.60 133.00,471.74 C134.00,470.88 135.00,470.02 136.00,469.15 C137.00,468.28 138.00,467.41 139.00,466.54 C140.00,465.66 141.00,464.79 142.00,463.91 C143.00,463.03 144.00,462.15 145.00,461.27 C146.00,460.39 147.00,459.51 148.00,458.62 C149.00,457.74 150.00,456.85 151.00,455.96 C152.00,455.08 153.00,454.19 154.00,453.30 C155.00,452.41 156.00,451.52 157.00,450.63 C158.00,449.74 159.00,448.85 160.00,447.96 C161.00,447.07 162.00,446.18 163.00,445.28 C164.00,444.39 165.00,443.50 166.00,442.61 C167.00,441.72 168.00,440.83 169.00,439.94 C170.00,439.05 171.00,438.16 172.00,437.28 C173.00,436.39 174.00,435.50 175.00,434.62 C176.00,433.74 177.00,432.85 178.00,431.97 C179.00,431.09 180.00,430.21 181.00,429.33 C182.00,428.46 183.00,427.58 184.00,426.71 C185.00,425.83 186.00,424.96 187.00,424.10 C188.00,423.23 189.00,422.36 190.00,421.50 C191.00,420.64 192.00,419.78 193.00,418.92 C194.00,418.07 195.00,417.22 196.00,416.37 C197.00,415.52 198.00,414.68 199.00,413.83 C200.00,412.99 201.00,412.16 202.00,411.33 C203.00,410.49 204.00,409.67 205.00,408.84 C206.00,408.02 207.00,407.20 208.00,406.39 C209.00,405.57 210.00,404.77 211.00,403.96 C212.00,403.16 213.00,402.36 214.00,401.57 C215.00,400.78 216.00,399.99 217.00,399.21 C218.00,398.43 219.00,397.66 220.00,396.89 C221.00,396.12 222.00,395.36 223.00,394.60 C224.00,393.85 225.00,393.10 226.00,392.36 C227.00,391.61 228.00,390.88 229.00,390.15 C230.00,389.42 231.00,388.70 232.00,387.99 C233.00,387.28 234.00,386.57 235.00,385.88 C236.00,385.18 237.00,384.49 238.00,383.81 C239.00,383.13 240.00,382.46 241.00,381.79 C242.00,381.13 243.00,380.47 244.00,379.82 C245.00,379.18 246.00,378.54 247.00,377.90 C248.00,377.27 249.00,376.65 250.00,376.03 C251.00,375.41 252.00,374.81 253.00,374.20 C254.00,373.60 255.00,373.01 256.00,372.42 C257.00,371.84 258.00,371.26 259.00,370.69 C260.00,370.11 261.00,369.55 262.00,368.99 C263.00,368.44 264.00,367.89 265.00,367.34 C266.00,366.80 267.00,366.26 268.00,365.73 C269.00,365.20 270.00,364.68 271.00,364.17 C272.00,363.65 273.00,363.14 274.00,362.64 C275.00,362.14 276.00,361.64 277.00,361.15 C278.00,360.66 279.00,360.18 280.00,359.70 C281.00,359.22 282.00,358.75 283.00,358.28 C284.00,357.82 285.00,357.36 286.00,356.90 C287.00,356.45 288.00,356.00 289.00,355.56 C290.00,355.12 291.00,354.68 292.00,354.25 C293.00,353.82 294.00,353.40 295.00,352.97 C296.00,352.55 297.00,352.14 298.00,351.73 C299.00,351.32 300.00,350.92 301.00,350.52 C302.00,350.12 303.00,349.72 304.00,349.34 C305.00,348.95 306.00,348.56 307.00,348.18 C308.00,347.80 309.00,347.43 310.00,347.06 C311.00,346.69 312.00,346.32 313.00,345.96 C314.00,345.60 315.00,345.24 316.00,344.89 C317.00,344.54 318.00,344.19 319.00,343.84 C320.00,343.50 321.00,343.16 322.00,342.82 C323.00,342.49 324.00,342.15 325.00,341.83 C326.00,341.50 327.00,341.18 328.00,340.86 C329.00,340.54 330.00,340.22 331.00,339.91 C332.00,339.60 333.00,339.29 334.00,338.98 C335.00,338.68 336.00,338.38 337.00,338.08 C338.00,337.79 339.00,337.49 340.00,337.20 C341.00,336.92 342.00,336.63 343.00,336.35 C344.00,336.07 345.00,335.79 346.00,335.51 C347.00,335.24 348.00,334.97 349.00,334.70 C350.00,334.43 351.00,334.17 352.00,333.90 C353.00,333.64 354.00,333.39 355.00,333.13 C356.00,332.88 357.00,332.63 358.00,332.38 C359.00,332.13 360.00,331.88 361.00,331.64 C362.00,331.40 363.00,331.16 364.00,330.93 C365.00,330.69 366.00,330.46 367.00,330.23 C368.00,330.00 369.00,329.77 370.00,329.55 C371.00,329.33 372.00,329.10 373.00,328.89 C374.00,328.67 375.00,328.45 376.00,328.24 C377.00,328.03 378.00,327.82 379.00,327.61 C380.00,327.40 381.50,327.10 382.00,327.00" fill="none" stroke="#222" stroke-width="0.7"/>
<path d="M52.00,524.20 C52.50,524.02 54.00,523.50 55.00,523.13 C56.00,522.75 57.00,522.37 58.00,521.95 C59.00,521.54 60.00,521.07 61.00,520.62 C62.00,520.16 63.00,519.70 64.00,519.22 C65.00,518.73 66.00,518.22 67.00,517.70 C68.00,517.18 69.00,516.63 70.00,516.08 C71.00,515.52 72.00,514.96 73.00,514.39 C74.00,513.82 75.00,513.24 76.00,512.65 C77.00,512.05 78.00,511.42 79.00,510.79 C80.00,510.17 81.00,509.53 82.00,508.89 C83.00,508.25 84.00,507.60 85.00,506.94 C86.00,506.28 87.00,505.61 88.00,504.93 C89.00,504.26 90.00,503.57 91.00,502.88 C92.00,502.20 93.00,501.50 94.00,500.80 C95.00,500.10 96.00,499.39 97.00,498.67 C98.00,497.96 99.00,497.23 100.00,496.50 C101.00,495.78 102.00,495.04 103.00,494.31 C104.00,493.57 105.00,492.84 106.00,492.09 C107.00,491.35 108.00,490.60 109.00,489.84 C110.00,489.09 111.00,488.32 112.00,487.56 C113.00,486.79 114.00,486.02 115.00,485.25 C116.00,484.47 117.00,483.69 118.00,482.90 C119.00,482.12 120.00,481.33 121.00,480.53 C122.00,479.74 123.00,478.94 124.00,478.14 C125.00,477.33 126.00,476.53 127.00,475.72 C128.00,474.91 129.00,474.10 130.00,473.28 C131.00,472.46 132.00,471.64 133.00,470.82 C134.00,469.99 135.00,469.17 136.00,468.34 C137.00,467.51 138.00,466.68 139.00,465.84 C140.00,465.00 141.00,464.14 142.00,463.29 C143.00,462.44 144.00,461.59 145.00,460.73 C146.00,459.88 147.00,459.02 148.00,458.16 C149.00,457.30 150.00,456.44 151.00,455.58 C152.00,454.72 153.00,453.86 154.00,452.99 C155.00,452.12 156.00,451.24 157.00,450.36 C158.00,449.48 159.00,448.60 160.00,447.72 C161.00,446.84 162.00,445.96 163.00,445.08 C164.00,444.20 165.00,443.31 166.00,442.43 C167.00,441.56 168.00,440.68 169.00,439.80 C170.00,438.92 171.00,438.04 172.00,437.16 C173.00,436.29 174.00,435.41 175.00,434.53 C176.00,433.65 177.00,432.77 178.00,431.90 C179.00,431.02 180.00,430.15 181.00,429.28 C182.00,428.41 183.00,427.54 184.00,426.67 C185.00,425.80 186.00,424.94 187.00,424.08 C188.00,423.22 189.00,422.36 190.00,421.50 C191.00,420.64 192.00,419.78 193.00,418.92 C194.00,418.07 195.00,417.22 196.00,416.37 C197.00,415.52 198.00,414.68 199.00,413.83 C200.00,412.99 201.00,412.16 202.00,411.33 C203.00,410.49 204.00,409.67 205.00,408.84 C206.00,408.02 207.00,407.20 208.00,406.39 C209.00,405.57 210.00,404.77 211.00,403.96 C212.00,403.16 213.00,402.36 214.00,401.57 C215.00,400.78 216.00,399.99 217.00,399.21 C218.00,398.43 219.00,397.66 220.00,396.89 C221.00,396.12 222.00,395.36 223.00,394.60 C224.00,393.85 225.00,393.10 226.00,392.36 C227.00,391.61 228.00,390.88 229.00,390.15 C230.00,389.42 231.00,388.70 232.00,387.99 C233.00,387.28 234.00,386.57 235.00,385.88 C236.00,385.18 237.00,384.49 238.00,383.81 C239.00,383.13 240.00,382.46 241.00,381.79 C242.00,381.13 243.00,380.47 244.00,379.82 C245.00,379.18 246.00,378.54 247.00,377.90 C248.00,377.27 249.00,376.65 250.00,376.03 C251.00,375.41 252.00,374.81 253.00,374.20 C254.00,373.60 255.00,373.01 256.00,372.42 C257.00,371.84 258.00,371.26 259.00,370.69 C260.00,370.11 261.00,369.55 262.00,368.99 C263.00,368.44 264.00,367.89 265.00,367.34 C266.00,366.80 267.00,366.26 268.00,365.73 C269.00,365.20 270.00,364.68 271.00,364.17 C272.00,363.65 273.00,363.14 274.00,362.64 C275.00,362.14 276.00,361.64 277.00,361.15 C278.00,360.66 279.00,360.18 280.00,359.70 C281.00,359.22 282.00,358.75 283.00,358.28 C284.00,357.82 285.00,357.36 286.00,356.90 C287.00,356.45 288.00,356.00 289.00,355.56 C290.00,355.12 291.00,354.68 292.00,354.25 C293.00,353.82 294.00,353.40 295.00,352.97 C296.00,352.55 297.00,352.14 298.00,351.73 C299.00,351.32 300.00,350.92 301.00,350.52 C302.00,350.12 303.00,349.72 304.00,349.34 C305.00,348.95 306.00,348.56 307.00,348.18 C308.00,347.80 309.00,347.43 310.00,347.06 C311.00,346.69 312.00,346.32 313.00,345.96 C314.00,345.60 315.00,345.24 316.00,344.89 C317.00,344.54 318.00,344.19 319.00,343.84 C320.00,343.50 321.00,343.16 322.00,342.82 C323.00,342.49 324.00,342.15 325.00,341.83 C326.00,341.50 327.00,341.18 328.00,340.86 C329.00,340.54 330.00,340.22 331.00,339.91 C332.00,339.60 333.00,339.29 334.00,338.98 C335.00,338.68 336.00,338.38 337.00,338.08 C338.00,337.79 339.00,337.49 340.00,337.20 C341.00,336.92 342.00,336.63 343.00,336.35 C344.00,336.07 345.00,335.79 346.00,335.51 C347.00,335.24 348.00,334.97 349.00,334.70 C350.00,334.43 351.00,334.17 352.00,333.90 C353.00,333.64 354.00,333.39 355.00,333.13 C356.00,332.88 357.00,332.63 358.00,332.38 C359.00,332.13 360.00,331.88 361.00,331.64 C362.00,331.40 363.00,331.16 364.00,330.93 C365.00,330.69 366.00,330.46 367.00,330.23 C368.00,330.00 369.00,329.77 370.00,329.55 C371.00,329.33 372.00,329.10 373.00,328.89 C374.00,328.67 375.00,328.45 376.00,328.24 C377.00,328.03 378.00,327.82 379.00,327.61 C380.00,327.40 381.50,327.10 382.00,327.00" fill="none" stroke="#222" stroke-width="0.9" stroke-dasharray="1.8 1.6"/>
</svg>
</body></html>
